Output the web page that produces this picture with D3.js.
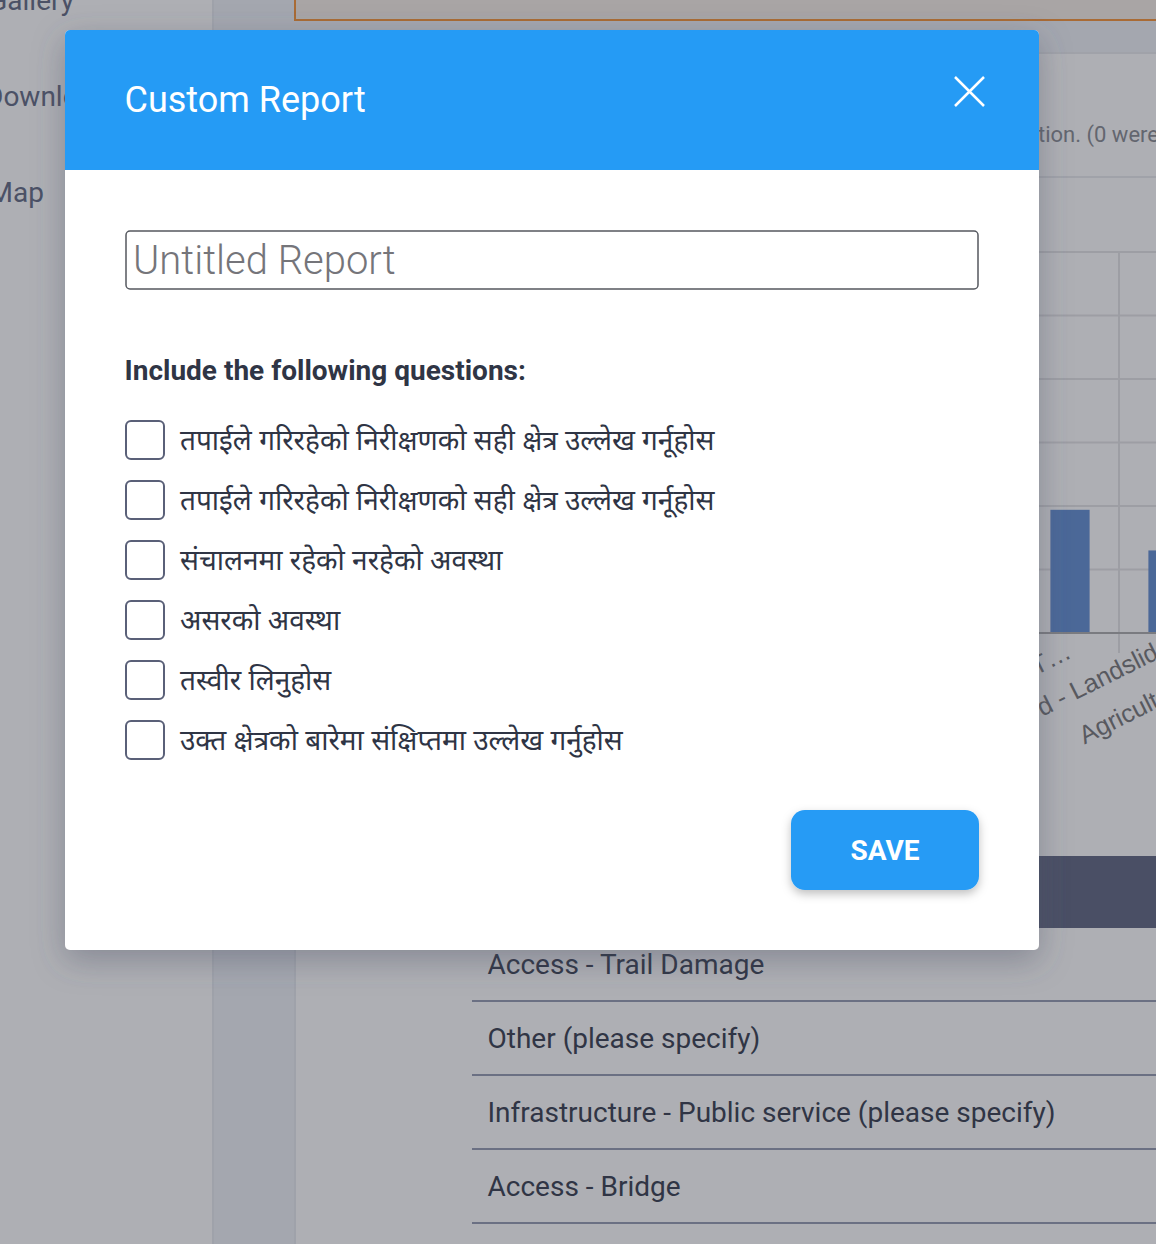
<!DOCTYPE html>
<html>
<head>
<meta charset="utf-8">
<script src="https://cdnjs.cloudflare.com/ajax/libs/d3/7.8.5/d3.min.js"></script>
<style>
  html, body { margin: 0; padding: 0; background: #aeafb4; overflow: hidden; }
  svg { display: block; }
  text { font-family: Roboto, sans-serif; }
</style>
</head>
<body>
<div id="chart"></div>
<script>
const categories = ["Access - T…", "Natural Hazard - Landslide", "Agriculture - Other"];
const barValues = [19.4, 13];
const yTicks = [0, 10, 20, 30, 40, 50, 60];

const sideLinks = ["Gallery", "Download", "Map"];
const tableRows = [
  "Access - Trail Damage",
  "Other (please specify)",
  "Infrastructure - Public service (please specify)",
  "Access - Bridge"
];
const questions = [
  "तपाईले गरिरहेको निरीक्षणको सही क्षेत्र उल्लेख गर्नूहोस",
  "तपाईले गरिरहेको निरीक्षणको सही क्षेत्र उल्लेख गर्नूहोस",
  "संचालनमा रहेको नरहेको अवस्था",
  "असरको अवस्था",
  "तस्वीर लिनुहोस",
  "उक्त क्षेत्रको बारेमा संक्षिप्तमा उल्लेख गर्नुहोस"
];

const width = 1156;
const height = 1244;
const blue = "#259bf5";

const svg = d3.select("#chart").append("svg")
  .attr("width", width)
  .attr("height", height);

const defs = svg.append("defs");
const modalShadow = defs.append("filter").attr("id", "modalShadow")
  .attr("x", "-10%").attr("y", "-10%").attr("width", "120%").attr("height", "120%");
modalShadow.append("feDropShadow").attr("dx", 0).attr("dy", 10).attr("stdDeviation", 16)
  .attr("flood-color", "#4a4f65").attr("flood-opacity", 0.4);
const btnShadow = defs.append("filter").attr("id", "btnShadow")
  .attr("x", "-20%").attr("y", "-20%").attr("width", "140%").attr("height", "150%");
btnShadow.append("feDropShadow").attr("dx", 0).attr("dy", 4).attr("stdDeviation", 5)
  .attr("flood-color", "#000").attr("flood-opacity", 0.25);

function drawPage() {
  // strip between sidebar and card
  svg.append("rect").attr("x", 213).attr("y", 0).attr("width", width - 213).attr("height", height).attr("fill", "#a4a7af");
  svg.append("rect").attr("x", 295).attr("y", 53).attr("width", width - 295).attr("height", height - 53).attr("fill", "#aeafb4");
  svg.append("line").attr("x1", 213).attr("x2", 213).attr("y1", 0).attr("y2", height).attr("stroke", "#9fa2aa").attr("stroke-width", 2);
  svg.append("line").attr("x1", 295).attr("x2", 295).attr("y1", 53).attr("y2", height).attr("stroke", "#9fa2aa").attr("stroke-width", 2);
  svg.append("line").attr("x1", 295).attr("x2", width).attr("y1", 53).attr("y2", 53).attr("stroke", "#a0a2a9").attr("stroke-width", 2);
  svg.append("line").attr("x1", 295).attr("x2", width).attr("y1", 177).attr("y2", 177).attr("stroke", "#a0a2a9").attr("stroke-width", 2);

  // orange banner at the top
  svg.append("rect").attr("x", 295).attr("y", -10).attr("width", width).attr("height", 30)
    .attr("fill", "#a9a5a5").attr("stroke", "#a96b35").attr("stroke-width", 2);

  const linkX = [74, -15, 44];
  const linkY = [10, 106, 202];
  svg.selectAll(".side").data(sideLinks).enter().append("text")
    .attr("class", "side")
    .attr("x", (d, i) => linkX[i])
    .attr("y", (d, i) => linkY[i])
    .attr("text-anchor", (d, i) => i === 1 ? "start" : "end")
    .attr("font-size", 28)
    .attr("fill", "#4b5166")
    .text(d => d);

  svg.append("text").attr("x", 1038).attr("y", 142).attr("font-size", 22)
    .attr("fill", "#63666f").text("tion. (0 were");
}

function drawChart() {
  const y = d3.scaleLinear().domain([0, 60]).range([633, 252]);
  const x = d3.scaleBand().domain(categories).range([1021, 1315]).paddingInner(0.6).paddingOuter(0.3);
  const step = x.step();

  svg.selectAll(".hgrid").data(yTicks.slice(1)).enter().append("line")
    .attr("class", "hgrid")
    .attr("x1", 300).attr("x2", width)
    .attr("y1", d => y(d)).attr("y2", d => y(d))
    .attr("stroke", "#9d9ea4").attr("stroke-width", 2);

  svg.selectAll(".vgrid").data(categories).enter().append("line")
    .attr("class", "vgrid")
    .attr("x1", d => x(d) + x.bandwidth() / 2 + step / 2)
    .attr("x2", d => x(d) + x.bandwidth() / 2 + step / 2)
    .attr("y1", y(60)).attr("y2", y(0) + 20)
    .attr("stroke", "#9d9ea4").attr("stroke-width", 2);

  svg.selectAll(".bar").data(barValues).enter().append("rect")
    .attr("class", "bar")
    .attr("x", (d, i) => x(categories[i]))
    .attr("y", d => y(d))
    .attr("width", x.bandwidth())
    .attr("height", d => y(0) - y(d))
    .attr("fill", "#4b6898");

  svg.append("line").attr("x1", 300).attr("x2", width).attr("y1", y(0)).attr("y2", y(0))
    .attr("stroke", "#7a7b80").attr("stroke-width", 2);

  const axis = svg.append("g")
    .attr("transform", "translate(0," + y(0) + ")")
    .call(d3.axisBottom(x).tickSize(0));
  axis.select(".domain").remove();
  // the shortened label sits slightly off the others
  axis.selectAll("text")
    .attr("transform", "translate(5,18.5) rotate(-26.5)")
    .attr("x", (d, i) => i === 0 ? -4.5 : 0)
    .attr("y", (d, i) => i === 0 ? 4 : 0)
    .attr("dy", 0)
    .attr("text-anchor", "end")
    .style("font-family", "'Liberation Sans', sans-serif")
    .style("font-size", "25.5px")
    .attr("fill", "#58595f");
}

function drawTable() {
  svg.append("rect").attr("x", 472).attr("y", 856).attr("width", width - 472).attr("height", 72).attr("fill", "#4a4f65");

  const rowY = d3.scaleBand().domain(tableRows).range([928, 1224]);
  const rows = svg.selectAll(".row").data(tableRows).enter().append("g")
    .attr("class", "row")
    .attr("transform", d => "translate(472," + rowY(d) + ")");
  rows.append("text").attr("x", 15.5).attr("y", 46).attr("font-size", 28).attr("fill", "#303545").text(d => d);
  rows.append("line").attr("x1", 0).attr("x2", width - 472).attr("y1", 73).attr("y2", 73)
    .attr("stroke", "#6b7083").attr("stroke-width", 2);
}

function drawModal() {
  svg.append("rect").attr("x", 65).attr("y", 30).attr("width", 974).attr("height", 920).attr("rx", 5)
    .attr("fill", "#fff").attr("filter", "url(#modalShadow)");
  svg.append("path").attr("d", "M65,170V35a5,5 0 0 1 5,-5H1034a5,5 0 0 1 5,5V170Z").attr("fill", blue);
  svg.append("text").attr("x", 124.5).attr("y", 112).attr("font-size", 36).attr("fill", "#fff").text("Custom Report");
  svg.append("path").attr("d", "M955,77L984,106M984,77L955,106").attr("stroke", "#fff").attr("stroke-width", 2.5).attr("fill", "none");

  svg.append("rect").attr("x", 126).attr("y", 231).attr("width", 852).attr("height", 58).attr("rx", 4)
    .attr("fill", "#fff").attr("stroke", "#55585f").attr("stroke-width", 1.5);
  svg.append("text").attr("x", 133).attr("y", 274).attr("font-size", 40).attr("font-weight", 300)
    .attr("fill", "#75757a").text("Untitled Report");

  svg.append("text").attr("x", 124.5).attr("y", 380).attr("font-size", 28).attr("font-weight", 700)
    .attr("fill", "#2f3545").text("Include the following questions:");

  const qY = d3.scaleBand().domain(d3.range(questions.length)).range([410, 770]);
  const q = svg.selectAll(".question").data(questions).enter().append("g")
    .attr("class", "question")
    .attr("transform", (d, i) => "translate(0," + qY(i) + ")");
  q.append("rect").attr("x", 126).attr("y", 11).attr("width", 38).attr("height", 38).attr("rx", 5)
    .attr("fill", "#fff").attr("stroke", "#5a6078").attr("stroke-width", 2);
  q.append("text").attr("x", 180).attr("y", 40).attr("font-size", 28).attr("fill", "#2f3545")
    .style("font-family", "'Noto Sans', 'Noto Sans Devanagari', Lohit, sans-serif")
    .text(d => d);

  svg.append("rect").attr("x", 791).attr("y", 810).attr("width", 188).attr("height", 80).attr("rx", 14)
    .attr("fill", blue).attr("filter", "url(#btnShadow)");
  svg.append("text").attr("x", 885).attr("y", 860).attr("text-anchor", "middle").attr("font-size", 28)
    .attr("font-weight", 700).attr("fill", "#fff").text("SAVE");
}

drawPage();
drawChart();
drawTable();
drawModal();
</script>
</body>
</html>
